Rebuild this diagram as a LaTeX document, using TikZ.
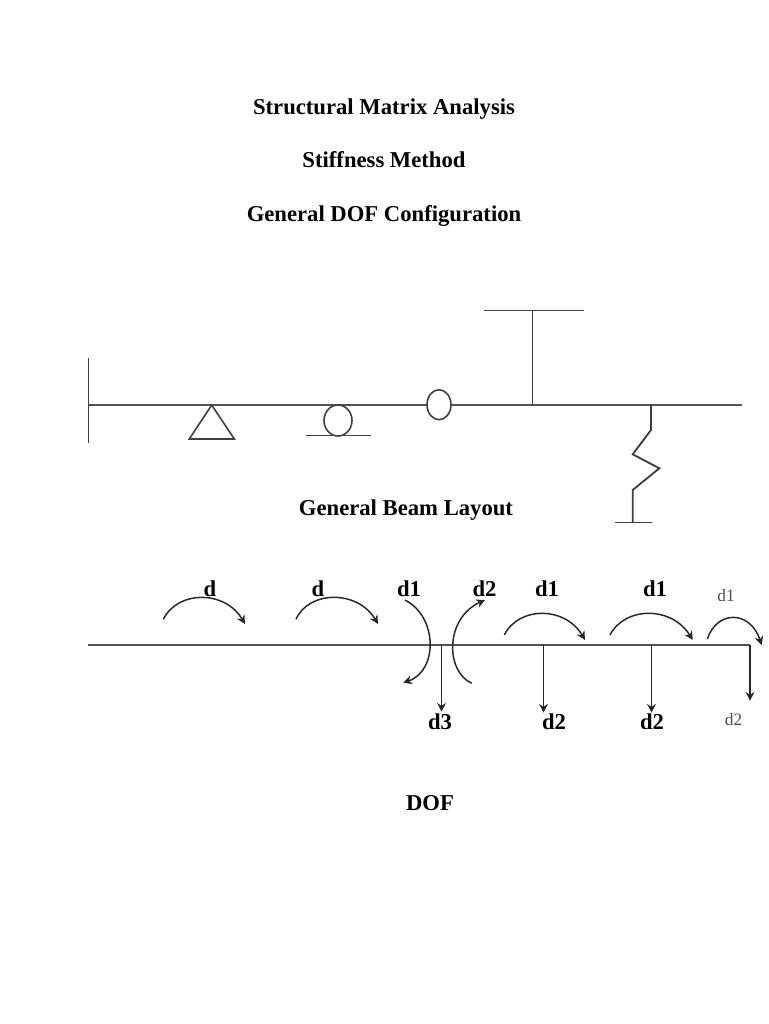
\documentclass[tikz,border=0pt]{standalone}
\usepackage{fontspec}
\setmainfont{Liberation Serif}
\usetikzlibrary{arrows.meta}
\tikzset{
  beam/.style={draw=black!68,line width=1.6pt},
  thin line/.style={draw=black!75,line width=1.2pt},
  arrowline/.style={draw=black!85,line width=1.1pt,-{Stealth[length=6.5pt,width=6.5pt]}},
  title/.style={font=\fontsize{17}{19}\selectfont\bfseries,inner sep=0pt,anchor=base,text=black},
  plain label/.style={font=\fontsize{13}{15}\selectfont,inner sep=0pt,anchor=base,text=black!70}
}
\begin{document}
\begin{tikzpicture}[x=0.75pt,y=-0.75pt]
\useasboundingbox (0,0) rectangle (768,1024);
% titles
\node[title] (t1) at (384,114) {Structural Matrix Analysis};
\node[title] (t2) at (384,167) {Stiffness Method};
\node[title] (t3) at (384,221) {General DOF Configuration};
\node[title] (t4) at (406,515) {General Beam Layout};
\node[title] (t5) at (430,810) {DOF};
% beam layout
\coordinate (wallT) at (88.5,358);
\coordinate (wallB) at (88.5,442.5);
\coordinate (beamL) at (88.5,404.7);
\coordinate (beamR) at (741.7,404.7);
\draw[thin line] (wallT) -- (wallB);
\draw[beam] (beamL) -- (beamR);
\draw[thin line] (211.7,405) -- (234.3,439) -- (189.3,439) -- cycle;
\draw[thin line] (338,420.5) ellipse [x radius=14,y radius=15.5];
\draw[thin line] (306,435.5) -- (371,435.5);
\draw[thin line,fill=white] (439,404.7) ellipse [x radius=12,y radius=15];
\draw[thin line] (484,310.5) -- (584,310.5);
\draw[thin line] (532.5,310.5) -- (532.5,404.7);
\draw[thin line,line width=1.4pt] (651,405) -- (651,430) -- (632.7,454.3) -- (659.3,468.3) -- (632.7,490) -- (632.7,522.5);
\draw[thin line] (615.3,522.5) -- (651.7,522.5);
% DOF
\coordinate (dofL) at (88,644.7);
\coordinate (dofR) at (750,644.7);
\draw[beam] (dofL) -- (dofR);
\draw[arrowline] (163.3,619.3) .. controls (178,590) and (225,590) .. (245,624);
\draw[arrowline] (296,619.3) .. controls (309,590) and (358,590) .. (378,624);
\draw[arrowline] (405,600) .. controls (438,617) and (438,671) .. (403.3,682.7);
\draw[arrowline] (471.7,683.3) .. controls (445,671) and (445,618) .. (485,600);
\draw[arrowline] (504.3,635) .. controls (519,606) and (565,606) .. (585,640);
\draw[arrowline] (610,635) .. controls (625,606) and (672,606) .. (692.7,640);
\draw[arrowline] (707.3,639) .. controls (717,610) and (750,610) .. (761.7,645);
\draw[arrowline] (441.5,644.7) -- (441.5,711.7);
\draw[arrowline] (543.5,644.7) -- (543.5,712.7);
\draw[arrowline] (651.5,644.7) -- (651.5,712.7);
\draw[arrowline] (dofR) -- (750,700.7);
% labels
\node[title] (a) at (210,596) {d};
\node[title] (b) at (318,596) {d};
\node[title] (c) at (409,596) {d1};
\node[title] (e) at (484.5,596) {d2};
\node[title] (f) at (547,596) {d1};
\node[title] (g) at (655,596) {d1};
\node[plain label] (h) at (726,601) {d1};
\node[title] (i) at (440,729) {d3};
\node[title] (j) at (554,729) {d2};
\node[title] (k) at (652,729) {d2};
\node[plain label] (l) at (733.5,725.5) {d2};
\end{tikzpicture}
\end{document}
